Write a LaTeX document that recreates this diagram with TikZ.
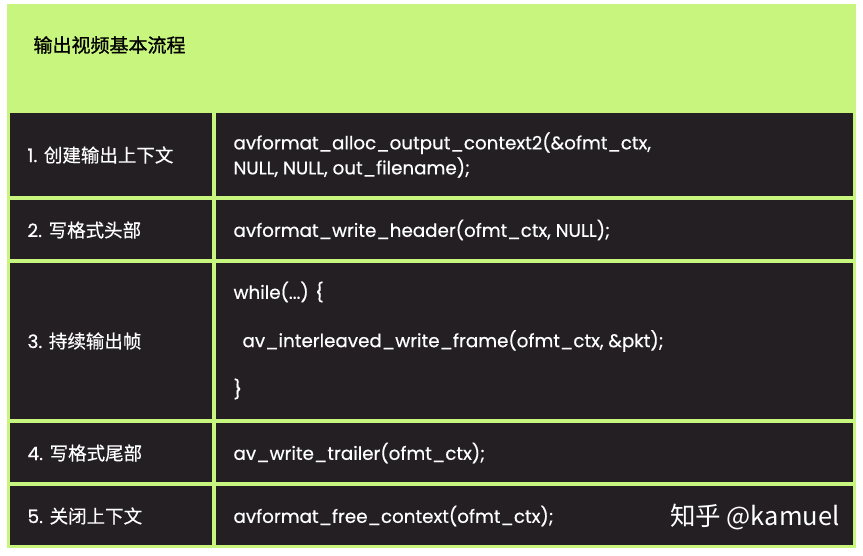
\documentclass[tikz,border=0pt]{standalone}
\usepackage{fontspec}
\setmainfont{Poppins}[FakeBold=0.5]
\newfontfamily\cjk{Noto Sans CJK SC}[FakeBold=0.4]
\newfontfamily\cjkb{Noto Sans CJK SC}[FakeBold=1.2]
\newfontfamily\cjkw{Noto Sans CJK SC}
\definecolor{lg}{HTML}{C8F57E}
\definecolor{dk}{HTML}{231F22}
\begin{document}
\begin{tikzpicture}[x=1pt,y=-1pt,
  cell/.style={fill=dk,draw=none},
  lbl/.style={anchor=west,text=white,font=\fontsize{18.5}{21}\selectfont,align=left},
  code/.style={anchor=west,text=white,font=\fontsize{18.3}{25}\selectfont,align=left}]
\useasboundingbox (0,0) rectangle (863,555);
\fill[white] (0,0) rectangle (863,555);
\fill[lg] (7,4) rectangle (856,548);
\node[anchor=west,font=\cjkb\fontsize{19}{21}\selectfont] (title) at (30,45) {输出视频基本流程};
\foreach \t/\b/\n in {113/196/1,200/259/2,263/419/3,423/482/4,486/545/5}{
  \fill[cell] (10,\t) rectangle (212,\b);
  \fill[cell] (216,\t) rectangle (853,\b);
}
\node[lbl] (l1) at (24,155) {1. {\cjk 创建输出上下文}};
\node[lbl] (l2) at (24,230) {2. {\cjk 写格式头部}};
\node[lbl] (l3) at (24,341) {3. {\cjk 持续输出帧}};
\node[lbl] (l4) at (24,453) {4. {\cjk 写格式尾部}};
\node[lbl] (l5) at (24,516) {5. {\cjk 关闭上下文}};
\node[code] (c1) at (230,155) {avformat\_alloc\_output\_context2(\&ofmt\_ctx,\\NULL, NULL, out\_filename);};
\node[code] (c2) at (230,230) {avformat\_write\_header(ofmt\_ctx, NULL);};
\node[code] (c3a) at (230,292) {while(...) \{};
\node[code] (c3b) at (239,341) {av\_interleaved\_write\_frame(ofmt\_ctx, \&pkt);};
\node[code] (c3c) at (230,389) {\}};
\node[code] (c4) at (230,453) {av\_write\_trailer(ofmt\_ctx);};
\node[code] (c5) at (230,516) {avformat\_free\_context(ofmt\_ctx);};
\node[anchor=east,text=white,font=\cjkw\fontsize{25.5}{28}\selectfont] (wm) at (843,517) {知乎 @kamuel};
\end{tikzpicture}
\end{document}
